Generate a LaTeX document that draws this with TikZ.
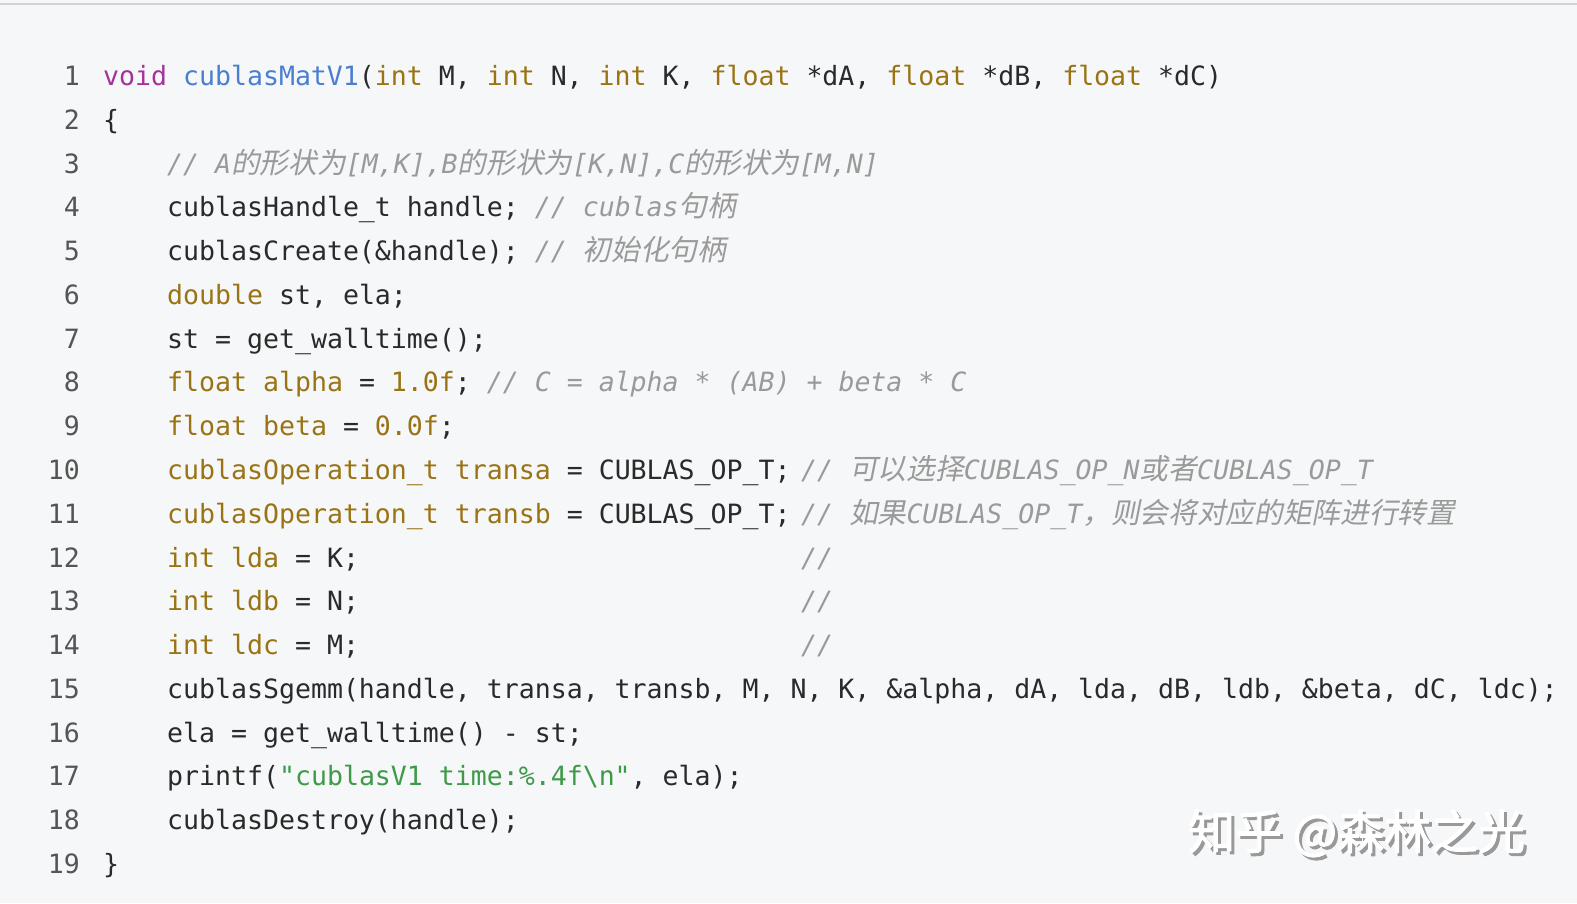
\documentclass[tikz,border=0pt]{standalone}
\usepackage{fontspec}
\setmonofont{DejaVu Sans Mono}
\newfontfamily\cjk{Noto Sans CJK SC}
\newfontfamily\cjkit{Noto Sans CJK SC}[FakeSlant=0.2,Scale=1.08]
\newfontfamily\cjkb{Noto Sans CJK SC}[FakeBold=2]
\definecolor{bgc}{HTML}{F6F7F8}
\definecolor{kwc}{HTML}{9A7414}
\definecolor{vdc}{HTML}{A3329A}
\definecolor{fnc}{HTML}{4A7FD0}
\definecolor{stc}{HTML}{3E9A48}
\definecolor{cmc}{HTML}{9A9A9A}
\definecolor{txc}{HTML}{2A2A2A}
\definecolor{lnc}{HTML}{555555}
\newcommand\kw[1]{\textcolor{kwc}{#1}}
\newcommand\cm[1]{\textcolor{cmc}{\itshape #1}}
\newcommand\zh[1]{{\cjkit #1}}
\begin{document}
\begin{tikzpicture}[x=1pt,y=-1pt,
  code/.style={anchor=base west,inner sep=0pt,font=\ttfamily\fontsize{26.55}{30}\selectfont,text=txc},
  lnum/.style={anchor=base east,inner sep=0pt,font=\ttfamily\fontsize{26.55}{30}\selectfont,text=lnc}]
\fill[bgc] (0,0) rectangle (1577,903);
\useasboundingbox (0,0) rectangle (1577,903);
\draw[gray!35,line width=1.5pt] (0,4) -- (1577,4);
\foreach \n in {1,...,19}{\node[lnum] (ln\n) at (80,{85.5+(\n-1)*43.78}) {\n};}
\def\Y#1{{85.5+(#1-1)*43.78}}
\node[code] (l1) at (103,\Y1) {\textcolor{vdc}{void} \textcolor{fnc}{cublasMatV1}(\kw{int} M, \kw{int} N, \kw{int} K, \kw{float} *dA, \kw{float} *dB, \kw{float} *dC)};
\node[code] (l2) at (103,\Y2) {\{};
\node[code] (l3) at (167,\Y3) {\cm{// A\zh{的形状为}[M,K],B\zh{的形状为}[K,N],C\zh{的形状为}[M,N]}};
\node[code] (l4) at (167,\Y4) {cublasHandle\_t handle; \cm{// cublas\zh{句柄}}};
\node[code] (l5) at (167,\Y5) {cublasCreate(\&handle); \cm{// \zh{初始化句柄}}};
\node[code] (l6) at (167,\Y6) {\kw{double} st, ela;};
\node[code] (l7) at (167,\Y7) {st = get\_walltime();};
\node[code] (l8) at (167,\Y8) {\kw{float alpha} = \kw{1.0f}; \cm{// C = alpha * (AB) + beta * C}};
\node[code] (l9) at (167,\Y9) {\kw{float beta} = \kw{0.0f};};
\node[code] (l10) at (167,\Y{10}) {\kw{cublasOperation\_t transa} = CUBLAS\_OP\_T;};
\node[code] (c10) at (801,\Y{10}) {\cm{// \zh{可以选择}CUBLAS\_OP\_N\zh{或者}CUBLAS\_OP\_T}};
\node[code] (l11) at (167,\Y{11}) {\kw{cublasOperation\_t transb} = CUBLAS\_OP\_T;};
\node[code] (c11) at (801,\Y{11}) {\cm{// \zh{如果}CUBLAS\_OP\_T\zh{，则会将对应的矩阵进行转置}}};
\node[code] (l12) at (167,\Y{12}) {\kw{int lda} = K;};
\node[code] (c12) at (801,\Y{12}) {\cm{//}};
\node[code] (l13) at (167,\Y{13}) {\kw{int ldb} = N;};
\node[code] (c13) at (801,\Y{13}) {\cm{//}};
\node[code] (l14) at (167,\Y{14}) {\kw{int ldc} = M;};
\node[code] (c14) at (801,\Y{14}) {\cm{//}};
\node[code] (l15) at (167,\Y{15}) {cublasSgemm(handle, transa, transb, M, N, K, \&alpha, dA, lda, dB, ldb, \&beta, dC, ldc);};
\node[code] (l16) at (167,\Y{16}) {ela = get\_walltime() - st;};
\node[code] (l17) at (167,\Y{17}) {printf(\textcolor{stc}{"cublasV1 time:\%.4f\textbackslash n"}, ela);};
\node[code] (l18) at (167,\Y{18}) {cublasDestroy(handle);};
\node[code] (l19) at (103,\Y{19}) {\}};
\node[anchor=base west,inner sep=0pt,font=\cjkb\fontsize{47}{52}\selectfont,text=black!40] (wms) at (1191,852) {知乎 @森林之光};
\node[anchor=base west,inner sep=0pt,font=\cjkb\fontsize{47}{52}\selectfont,text=white] (wm) at (1188,849) {知乎 @森林之光};
\end{tikzpicture}
\end{document}
